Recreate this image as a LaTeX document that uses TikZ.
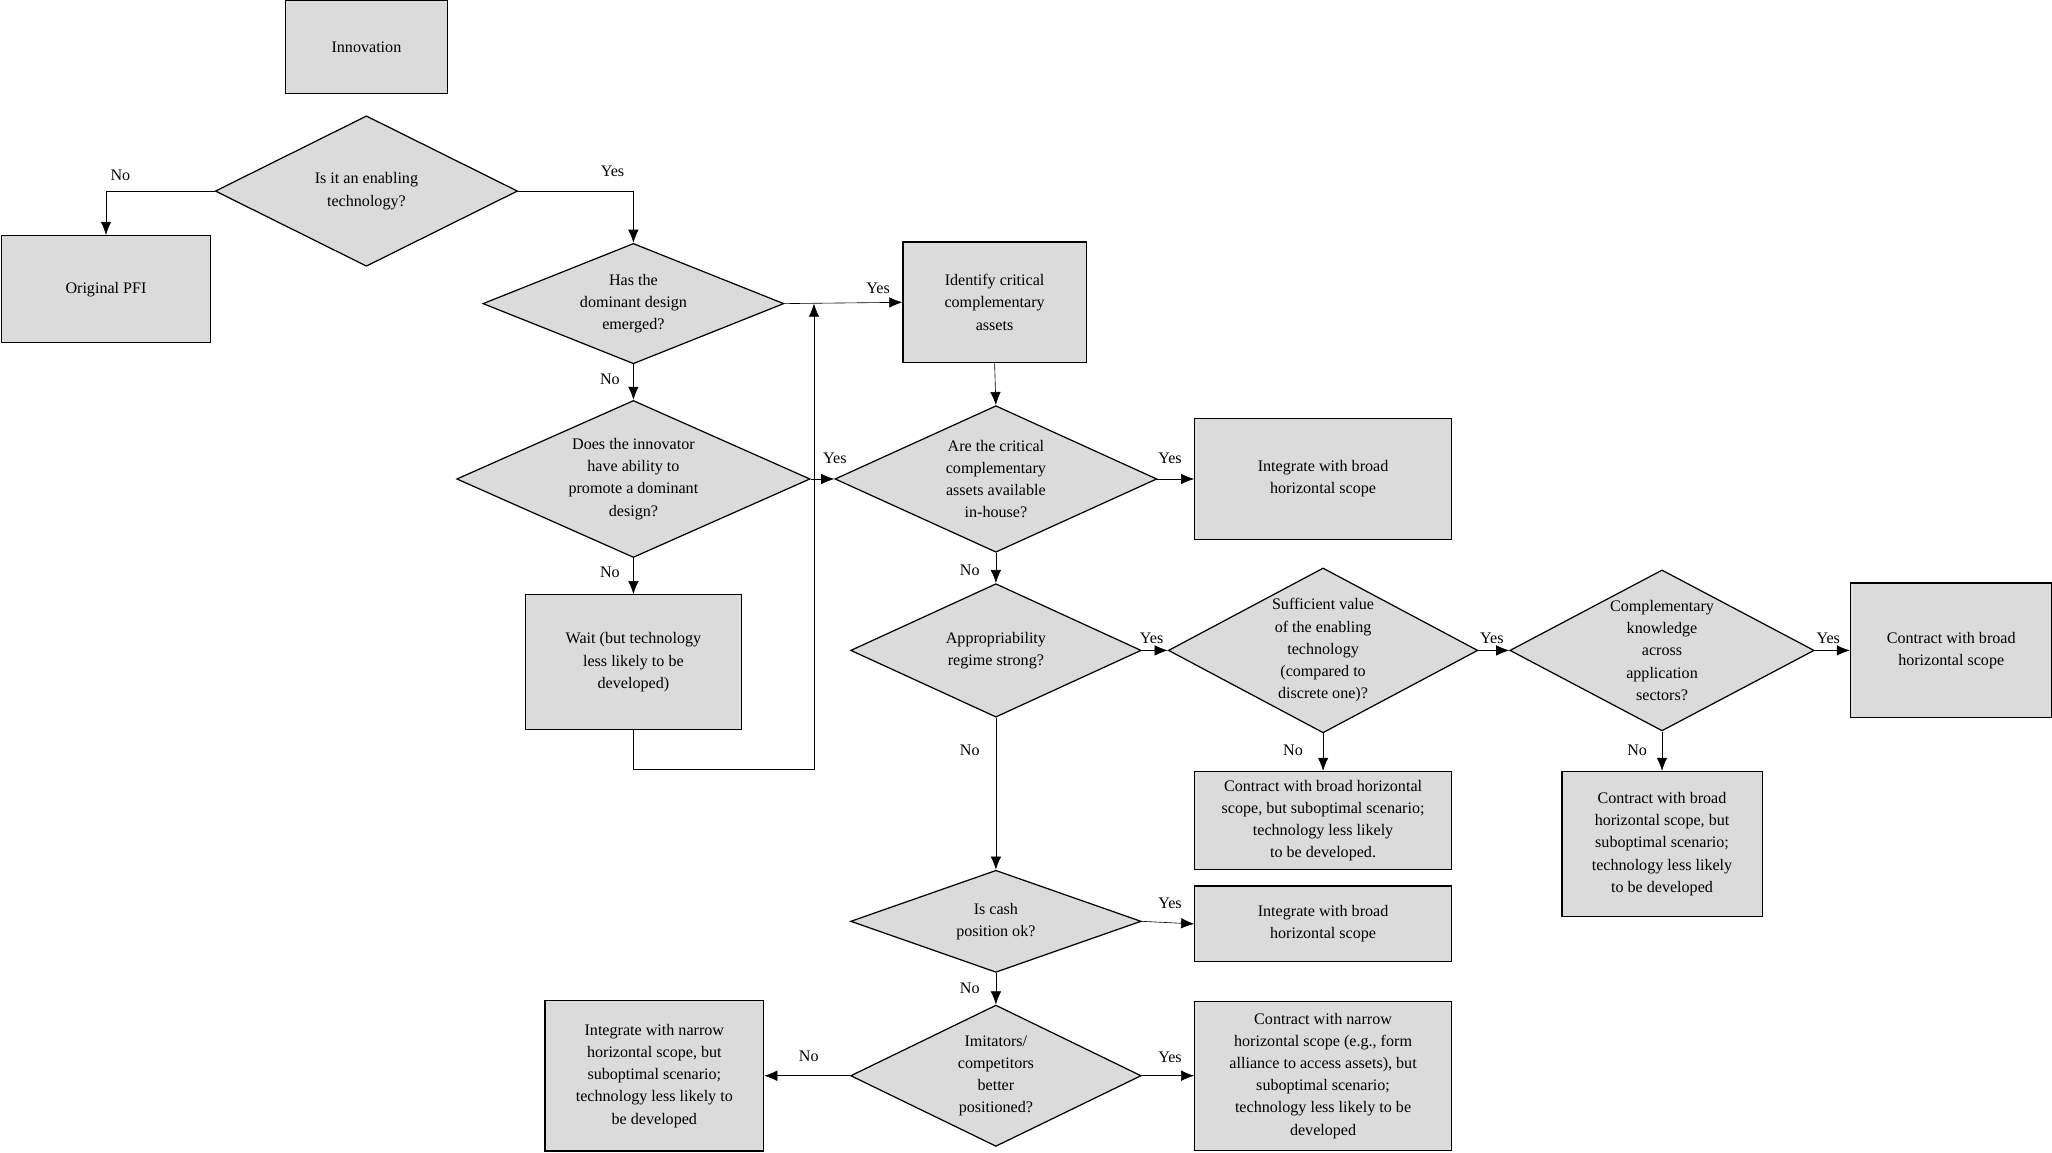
\documentclass[tikz,border=0pt]{standalone}
\usepackage{fontspec}
\setmainfont{Liberation Serif}
\usetikzlibrary{shapes.geometric,arrows.meta}
\newdimen\pxu \pxu=0.3mm
\begin{document}
\begin{tikzpicture}[x=0.3mm,y=-0.3mm,
  every node/.style={font=\fontsize{10.5}{14.5}\selectfont},
  box/.style 2 args={draw,fill=gray!28,thick,align=center,minimum width=#1\pxu,minimum height=#2\pxu,inner sep=0pt},
  dia/.style 2 args={draw,fill=gray!28,thick,diamond,align=center,minimum width=#1\pxu,minimum height=#2\pxu,inner sep=0pt,aspect=2},
  arr/.style={-{Latex[length=3mm,width=2.4mm]},thin},
  lab/.style={inner sep=1pt}]
\useasboundingbox (0,0) rectangle (1568,881);
\node[box={124}{71}] (inn) at (280,36) {Innovation};
\node[dia={231}{115}] (d1) at (280,146) {Is it an enabling\\technology?};
\node[box={160}{82}] (pfi) at (81,221) {Original PFI};
\node[dia={230}{92}] (d2) at (484,232) {Has the\\dominant design\\emerged?};
\node[box={140}{92}] (ide) at (760,231) {Identify critical\\complementary\\assets};
\node[dia={270}{120}] (d3) at (484,366) {Does the innovator\\have ability to\\promote a dominant\\design?};
\node[dia={246}{112}] (d4) at (761,366) {Are the critical\\complementary\\assets available\\in-house?};
\node[box={196}{92}] (int1) at (1011,366) {Integrate with broad\\horizontal scope};
\node[box={165}{103}] (wait) at (484,506) {Wait (but technology\\less likely to be\\developed)};
\node[dia={222}{102}] (d5) at (761,497) {Appropriability\\regime strong?};
\node[dia={226}{126}] (d6) at (1011,497) {Sufficient value\\of the enabling\\technology\\(compared to\\discrete one)?};
\node[dia={226}{123}] (d7) at (1270,497) {Complementary\\knowledge\\across\\application\\sectors?};
\node[box={154}{103}] (con1) at (1491,497) {Contract with broad\\horizontal scope};
\node[box={196}{75}] (con2) at (1011,627) {Contract with broad horizontal\\scope, but suboptimal scenario;\\technology less likely\\to be developed.};
\node[box={153}{111}] (con3) at (1270,645) {Contract with broad\\horizontal scope, but\\suboptimal scenario;\\technology less likely\\to be developed};
\node[dia={222}{78}] (d8) at (761,704) {Is cash\\position ok?};
\node[box={196}{58}] (int2) at (1011,706) {Integrate with broad\\horizontal scope};
\node[dia={222}{108}] (d9) at (761,822) {Imitators/\\competitors\\better\\positioned?};
\node[box={167}{115}] (nar) at (500,822) {Integrate with narrow\\horizontal scope, but\\suboptimal scenario;\\technology less likely to\\be developed};
\node[box={196}{114}] (con4) at (1011,822) {Contract with narrow\\horizontal scope (e.g., form\\alliance to access assets), but\\suboptimal scenario;\\technology less likely to be\\developed};
\coordinate (c1) at (81,146);
\coordinate (c2) at (484,146);
\coordinate (w1) at (484,588);
\coordinate (w2) at (622,588);
\coordinate (w3) at (622,232);
\draw[arr] (d1.west) -- (c1) -- (pfi.north);
\draw[arr] (d1.east) -- (c2) -- (d2.north);
\draw[arr] (d2.east) -- (ide.west);
\draw[arr] (d2.south) -- (d3.north);
\draw[arr] (d3.east) -- (d4.west);
\draw[arr] (d3.south) -- (wait.north);
\draw[arr] (wait.south) -- (w1) -- (w2) -- (w3);
\draw[arr] (ide.south) -- (d4.north);
\draw[arr] (d4.east) -- (int1.west);
\draw[arr] (d4.south) -- (d5.north);
\draw[arr] (d5.east) -- (d6.west);
\draw[arr] (d6.east) -- (d7.west);
\draw[arr] (d7.east) -- (con1.west);
\draw[arr] (d6.south) -- (con2.north);
\draw[arr] (d7.south) -- (con3.north);
\draw[arr] (d5.south) -- (d8.north);
\draw[arr] (d8.east) -- (int2.west);
\draw[arr] (d8.south) -- (d9.north);
\draw[arr] (d9.west) -- (nar.east);
\draw[arr] (d9.east) -- (con4.west);
\node[lab] (l1) at (92,134) {No};
\node[lab] (l2) at (468,131) {Yes};
\node[lab] (l3) at (671,220) {Yes};
\node[lab] (l4) at (466,290) {No};
\node[lab] (l5) at (638,350) {Yes};
\node[lab] (l6) at (466,437) {No};
\node[lab] (l7) at (894,350) {Yes};
\node[lab] (l8) at (741,436) {No};
\node[lab] (l9) at (880,488) {Yes};
\node[lab] (l10) at (1140,488) {Yes};
\node[lab] (l11) at (1397,488) {Yes};
\node[lab] (l12) at (988,573) {No};
\node[lab] (l13) at (1251,573) {No};
\node[lab] (l14) at (741,573) {No};
\node[lab] (l15) at (894,690) {Yes};
\node[lab] (l16) at (741,755) {No};
\node[lab] (l17) at (618,807) {No};
\node[lab] (l18) at (894,808) {Yes};
\end{tikzpicture}
\end{document}
